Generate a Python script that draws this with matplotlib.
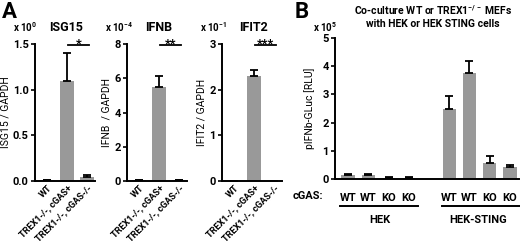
import numpy as np
import matplotlib
matplotlib.use("Agg")
import matplotlib.pyplot as plt

plt.rcParams['font.family'] = ['Roboto', 'DejaVu Sans']
plt.rcParams['font.weight'] = 'bold'
plt.rcParams['mathtext.fontset'] = 'custom'
plt.rcParams['mathtext.rm'] = 'Roboto:bold'
plt.rcParams['mathtext.default'] = 'rm'

# panel A data
a_cats = ["WT", "TREX1-/-, cGAS+", "TREX1-/-, cGAS-/-"]
isg15 = [0.01, 1.10, 0.04]
isg15_err = [0.0, 0.30, 0.03]
ifnb = [0.03, 5.50, 0.04]
ifnb_err = [0.0, 0.65, 0.0]
ifit2 = [0.005, 2.30, 0.005]
ifit2_err = [0.0, 0.12, 0.0]

# panel B data
b_pos = [0, 1, 2, 3, 5, 6, 7, 8]
b_cgas = ["WT", "WT", "KO", "KO", "WT", "WT", "KO", "KO"]
b_vals = [0.15, 0.13, 0.05, 0.05, 2.50, 3.77, 0.55, 0.43]
b_err = [0.04, 0.03, 0.02, 0.02, 0.45, 0.43, 0.27, 0.08]

W, H = 520, 243
bar_col = "#999999"
fig = plt.figure(figsize=(W / 100, H / 100), dpi=100)


def px_axes(left, right, top, bottom):
    return fig.add_axes([left / W, 1 - bottom / H, (right - left) / W, (bottom - top) / H])


def style(ax):
    for s in ("top", "right"):
        ax.spines[s].set_visible(False)
    for s in ("left", "bottom"):
        ax.spines[s].set_linewidth(1.4)
    ax.tick_params(axis="y", length=3, width=1.2, labelsize=8, pad=1.5)
    ax.tick_params(axis="x", length=0, labelsize=6.6, pad=2)


panels = [
    (35, 95, isg15, isg15_err, 1.5, [0, 0.5, 1.0, 1.5], ["0.0", "0.5", "1.0", "1.5"],
     "ISG15 / GAPDH", "ISG15", "x 10$^{0}$", "*"),
    (127, 187, ifnb, ifnb_err, 8, [0, 2, 4, 6, 8], None,
     "IFNB  / GAPDH", "IFNB", "x 10$^{-4}$", "**"),
    (222, 282, ifit2, ifit2_err, 3, [0, 1, 2, 3], None,
     "IFIT2 / GAPDH", "IFIT2", "x 10$^{-1}$", "***"),
]

for left, right, vals, err, top, ticks, tl, ylab, title, mult, star in panels:
    ax = px_axes(left, right, 44, 181)
    x = np.arange(len(vals))
    ax.bar(x, vals, width=0.68, color=bar_col, zorder=2)
    ax.errorbar(x, vals, yerr=[np.zeros(len(err)), err], fmt="none", ecolor="black",
                elinewidth=1.3, capsize=3, capthick=1.3, zorder=3)
    ax.set_xlim(-0.6, 2.4)
    ax.set_ylim(0, top)
    ax.set_yticks(ticks)
    if tl:
        ax.set_yticklabels(tl)
    ax.set_xticks(x)
    ax.set_xticklabels(a_cats, rotation=45, ha="right", rotation_mode="anchor")
    style(ax)
    ax.set_ylabel(ylab, fontsize=7.5, labelpad=2)
    ax.plot([1.05, 2.1], [top * 0.99, top * 0.99], color="black", lw=1.3, clip_on=False)
    ax.text(1.57, top * 1.0, star, ha="center", va="center", fontsize=9, fontweight="bold")
    fig.text((left - 22) / W, 1 - 27 / H, mult, ha="left", va="center", fontsize=7)
    fig.text((left + right) / 2 / W + 0.003, 1 - 27 / H, title, ha="center", va="center", fontsize=9)

# panel B
axb = px_axes(335, 519, 38, 179)
axb.bar(b_pos, b_vals, width=0.66, color=bar_col, zorder=2)
axb.errorbar(b_pos, b_vals, yerr=[np.zeros(len(b_err)), b_err], fmt="none", ecolor="black",
             elinewidth=1.3, capsize=3, capthick=1.3, zorder=3)
axb.set_xlim(-0.65, 8.45)
axb.set_ylim(0, 5)
axb.set_yticks([0, 1, 2, 3, 4, 5])
axb.set_xticks(b_pos)
axb.set_xticklabels(b_cgas)
style(axb)
axb.tick_params(axis="x", labelsize=8, pad=10)
axb.set_ylabel("pIFNb-GLuc [RLU]", fontsize=7.5, labelpad=5)
fig.text(293 / W, 1 - 196 / H, "cGAS:", ha="left", va="center", fontsize=8)
fig.add_artist(plt.Line2D([340 / W, 418 / W], [1 - 206 / H] * 2, color="black", lw=1.4))
fig.add_artist(plt.Line2D([442 / W, 520 / W], [1 - 206 / H] * 2, color="black", lw=1.4))
fig.text(380 / W, 1 - 220 / H, "HEK", ha="center", va="center", fontsize=8)
fig.text(478 / W, 1 - 220 / H, "HEK-STING", ha="center", va="center", fontsize=8)
fig.text(313 / W, 1 - 27 / H, "x 10$^{5}$", ha="left", va="center", fontsize=7)
fig.text(433 / W, 1 - 10 / H, "Co-culture WT or TREX1$^{-/-}$ MEFs", ha="center", va="center", fontsize=7.5)
fig.text(433 / W, 1 - 24 / H, "with HEK or HEK STING cells", ha="center", va="center", fontsize=7.5)

fig.text(2 / W, 1 - 12 / H, "A", ha="left", va="center", fontsize=16)
fig.text(295 / W, 1 - 12 / H, "B", ha="left", va="center", fontsize=16)

fig.savefig("out.png", dpi=100)
